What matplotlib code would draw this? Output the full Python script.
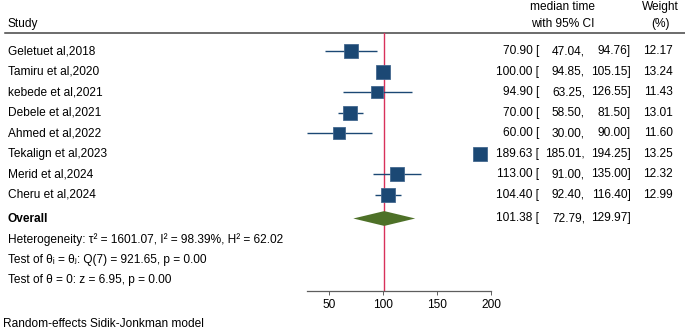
import matplotlib
matplotlib.use("Agg")
import matplotlib.pyplot as plt
import numpy as np

# ---------------- data ----------------
studies = ["Geletuet al,2018", "Tamiru et al,2020", "kebede et al,2021",
           "Debele et al,2021", "Ahmed et al,2022", "Tekalign et al,2023",
           "Merid et al,2024", "Cheru et al,2024"]
est = [70.90, 100.00, 94.90, 70.00, 60.00, 189.63, 113.00, 104.40]
lo = [47.04, 94.85, 63.25, 58.50, 30.00, 185.01, 91.00, 92.40]
hi = [94.76, 105.15, 126.55, 81.50, 90.00, 194.25, 135.00, 116.40]
weight = [12.17, 13.24, 11.43, 13.01, 11.60, 13.25, 12.32, 12.99]
overall = [101.38, 72.79, 129.97]
stats_lines = ["Heterogeneity: \u03c4\u00b2 = 1601.07, I\u00b2 = 98.39%, H\u00b2 = 62.02",
               "Test of \u03b8\u1d62 = \u03b8\u2c7c: Q(7) = 921.65, p = 0.00",
               "Test of \u03b8 = 0: z = 6.95, p = 0.00"]
xticks = [50, 100, 150, 200]

plt.rcParams['font.family'] = ['Liberation Sans', 'DejaVu Sans']
FS = 8.6
W, H = 685, 330
blue = "#1b4874"
red = "#d8315b"
green = "#4e7128"

fig = plt.figure(figsize=(W / 100, H / 100), dpi=100)

# overlay axes in pixel coords for the text columns
tx = fig.add_axes([0, 0, 1, 1])
tx.set_xlim(0, W)
tx.set_ylim(H, 0)
tx.axis("off")

# forest axes
x0, x1 = 307, 491
y_top, y_bot = 33, 290.5
ax = fig.add_axes([x0 / W, 1 - y_bot / H, (x1 - x0) / W, (y_bot - y_top) / H])
row0, pitch = 51, 20.57
ax.set_ylim((y_bot - row0) / pitch, -(row0 - y_top) / pitch)
ax.set_xlim(30, 200)
for s in ["top", "right", "left"]:
    ax.spines[s].set_visible(False)
ax.spines["bottom"].set_color("#5e5e5e")
ax.spines["bottom"].set_linewidth(0.9)
ax.set_yticks([])
ax.set_xticks(xticks)
ax.tick_params(axis="x", labelsize=FS, length=3, width=0.7, color="#5e5e5e", pad=3)
ax.patch.set_alpha(0)

n = len(studies)
rows = np.arange(n)
ax.axvline(overall[0], color=red, lw=1, zorder=1)
ax.hlines(rows, lo, hi, color=blue, lw=1, zorder=2)
for i in range(n):
    ms = 9.8 * np.sqrt(weight[i] / max(weight))
    ax.plot(est[i], rows[i], marker="s", ms=ms, color=blue,
            mec="#44688f", mew=0.6, zorder=3)

y_ov = 218.5
ov_row = (y_ov - row0) / pitch
dh = 0.36
ax.fill([overall[1], overall[0], overall[2], overall[0]],
        [ov_row, ov_row - dh, ov_row, ov_row + dh], color=green, lw=0, zorder=3)

# header
tx.text(8, 24, "Study", fontsize=FS, va="center")
tx.text(563, 7, "median time", fontsize=FS, va="center", ha="center")
tx.text(563, 24, "with 95% CI", fontsize=FS, va="center", ha="center")
tx.text(660, 7, "Weight", fontsize=FS, va="center", ha="center")
tx.text(661, 24, "(%)", fontsize=FS, va="center", ha="center")
tx.plot([5, W], [33, 33], color="#444444", lw=1.1)

for i in range(n):
    y = row0 + pitch * i
    tx.text(8, y, studies[i], fontsize=FS, va="center")
    tx.text(539, y, f"{est[i]:.2f} [", fontsize=FS, va="center", ha="right")
    tx.text(585, y, f"{lo[i]:.2f},", fontsize=FS, va="center", ha="right")
    tx.text(631, y, f"{hi[i]:.2f}]", fontsize=FS, va="center", ha="right")
    tx.text(673, y, f"{weight[i]:.2f}", fontsize=FS, va="center", ha="right")

tx.text(8, y_ov, "Overall", fontsize=FS, va="center", fontweight="bold")
tx.text(539, y_ov, f"{overall[0]:.2f} [", fontsize=FS, va="center", ha="right")
tx.text(585, y_ov, f"{overall[1]:.2f},", fontsize=FS, va="center", ha="right")
tx.text(631, y_ov, f"{overall[2]:.2f}]", fontsize=FS, va="center", ha="right")

for k, line in enumerate(stats_lines):
    tx.text(8, 239.5 + 20.3 * k, line, fontsize=FS, va="center")

tx.text(3, 324, "Random-effects Sidik-Jonkman model", fontsize=FS, va="center")

fig.savefig("out.png", dpi=100)
